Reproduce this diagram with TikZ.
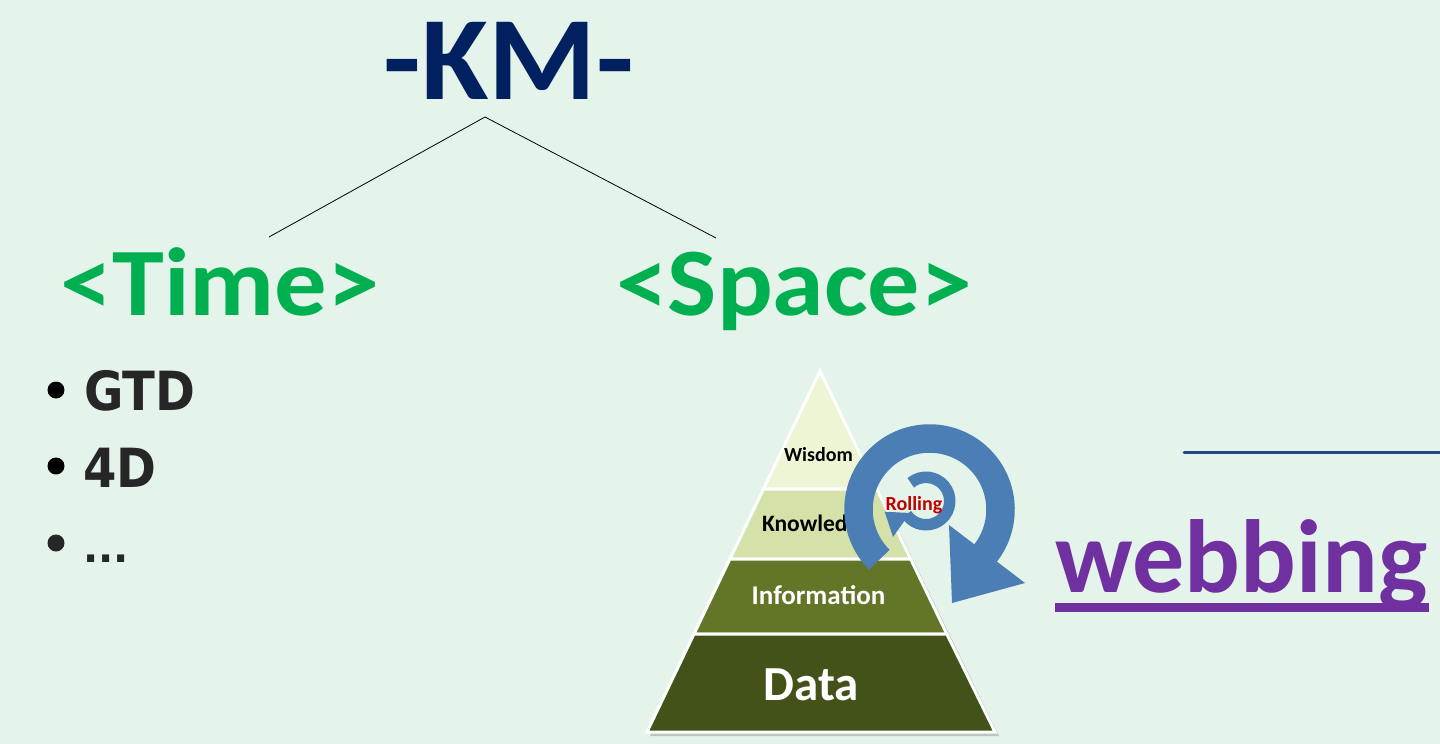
\documentclass[tikz,border=0pt]{standalone}
\usepackage{fontspec}
\setmainfont{Carlito}
\newfontfamily\verd{DejaVu Sans}
\usetikzlibrary{calc}
\definecolor{bgc}{HTML}{E4F4EA}
\definecolor{navy}{HTML}{002060}
\definecolor{grn}{HTML}{00B050}
\definecolor{wis}{HTML}{EEF5D5}
\definecolor{kno}{HTML}{D4E1A9}
\definecolor{inf}{HTML}{637527}
\definecolor{dat}{HTML}{435219}
\definecolor{arr}{HTML}{4A7EB5}
\definecolor{rol}{HTML}{C00000}
\definecolor{pur}{HTML}{7030A0}
\definecolor{ln}{HTML}{244A86}
\definecolor{dk}{HTML}{262626}
\tikzset{
  txt/.style={inner sep=0pt, outer sep=0pt, anchor=base},
  band/.style={draw=white, line width=3pt, line join=miter},
  listtxt/.style={txt, anchor=base west, text=dk, font=\verd\bfseries\fontsize{54}{54}\selectfont, xscale=0.89},
}
\begin{document}
\begin{tikzpicture}[x=1pt,y=-1pt]
\fill[bgc] (0,0) rectangle (1440,744);
\useasboundingbox (0,0) rectangle (1440,744);

% title and branches
\node[txt, text=navy, font=\bfseries\fontsize{128}{128}\selectfont, xscale=0.963, yscale=0.93] (km) at (509,99.5) {-KM-};
\node[txt, text=grn, font=\bfseries\fontsize{104}{104}\selectfont, xscale=1.005, yscale=0.93] (time) at (220,315) {<Time>};
\node[txt, text=grn, font=\bfseries\fontsize{104}{104}\selectfont, yscale=0.93] (space) at (794,315) {<Space>};
\coordinate (apex) at (485,117);
\coordinate (tl) at (269,237);
\coordinate (sl) at (716,238);
\draw[black, line width=0.8pt] (apex) -- (tl);
\draw[black, line width=0.8pt] (apex) -- (sl);

% bullet list
\fill[black] (56,390) circle (8.5);
\fill[black] (56,466) circle (8.5);
\fill[dk] (56,543) circle (8.5);
\node[listtxt] (gtd) at (84,410) {GTD};
\node[listtxt] (fourd) at (83,487) {4D};
\node[txt, anchor=base west, text=dk, font=\verd\bfseries\fontsize{40}{40}\selectfont] (dots) at (83,562) {...};

% pyramid shadow
\fill[black, opacity=0.18] (823,375) -- (999,736) -- (650,736) -- cycle;
% pyramid bands
\path[band, fill=wis] (820,371) -- (876.9,489) -- (763.5,489) -- cycle;
\path[band, fill=kno] (763.5,489) -- (876.9,489) -- (910.6,559) -- (729.9,559) -- cycle;
\path[band, fill=inf] (729.9,559) -- (910.6,559) -- (946.8,634) -- (694,634) -- cycle;
\path[band, fill=dat] (694,634) -- (946.8,634) -- (995,732) -- (647,732) -- cycle;
\node[txt, font=\bfseries\fontsize{20}{20}\selectfont] (wisdom) at (818.5,461.5) {Wisdom};
\node[txt, font=\bfseries\fontsize{23.5}{23.5}\selectfont, anchor=base west] (know) at (762,531) {Knowledge};
\node[txt, text=white, font=\bfseries\fontsize{27}{27}\selectfont] (info) at (818.5,604) {Information};
\node[txt, text=white, font=\bfseries\fontsize{49}{49}\selectfont] (data) at (811.5,700.5) {Data};

% big circular arrow
\coordinate (bc) at (929.5,509.5);
\draw[arr, line width=28.5pt] ($(bc)+(225:71pt)$) arc[start angle=225, end angle=-38, radius=71pt];
\fill[arr] (949,525) -- (1025,583) -- (952,603) -- cycle;

% small circular arrow
\coordinate (sc) at (926,501);
\draw[arr, line width=11.5pt] ($(sc)+(130:23.75pt)$) arc[start angle=130, end angle=-145, radius=23.75pt];
\fill[arr] (884.7,511.7) -- (910,513) -- (893,537) -- cycle;

\node[txt, text=rol, font=\bfseries\fontsize{20}{20}\selectfont] (rolling) at (914,510) {Rolling};

% right side
\coordinate (l1) at (1184,452);
\coordinate (l2) at (1440,452);
\draw[ln, line width=3pt, line cap=round] (l1) -- (l2);
\node[txt, text=pur, font=\bfseries\fontsize{104}{104}\selectfont] (web) at (1241.5,592) {webbing};
\fill[pur] (1055,603) rectangle (1429,612);
\end{tikzpicture}
\end{document}
